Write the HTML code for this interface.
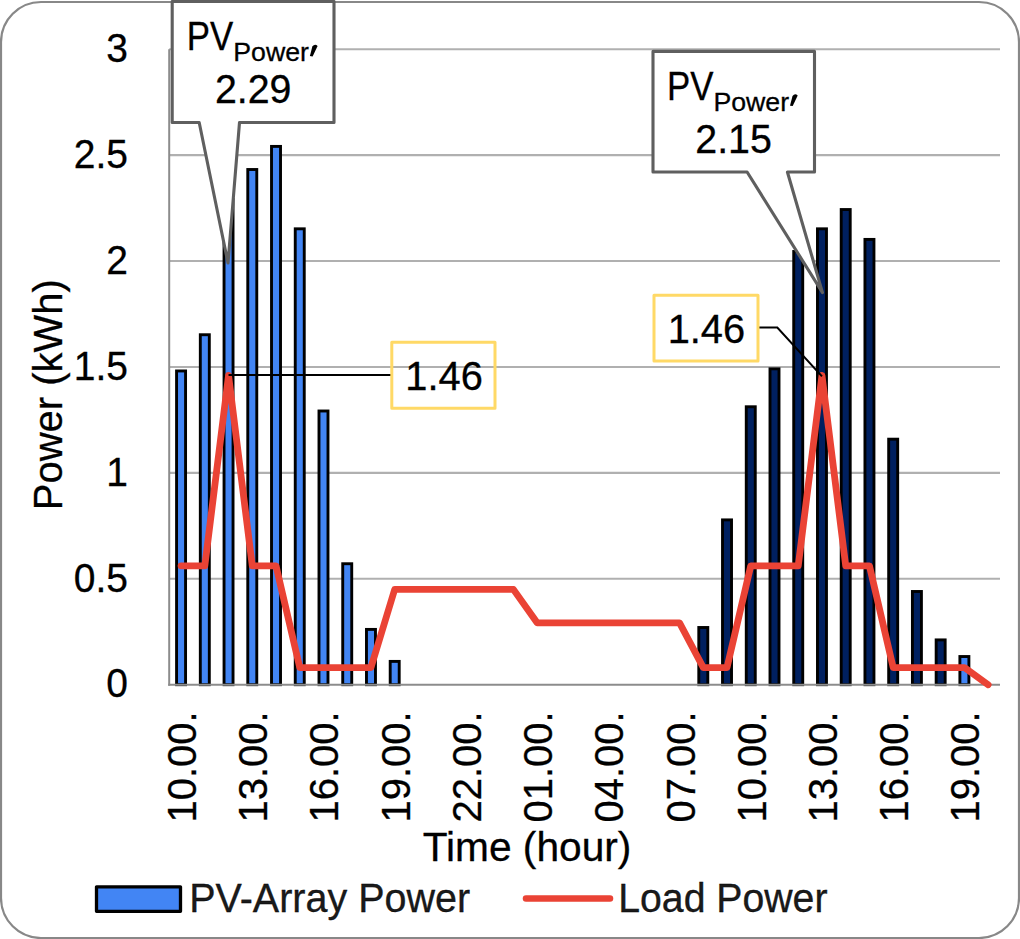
<!DOCTYPE html>
<html><head><meta charset="utf-8"><style>
html,body{margin:0;padding:0;background:#fff;}
svg{display:block;}
text{font-family:"Liberation Sans",sans-serif;fill:#000;stroke:#000;stroke-width:0.3px;}
</style></head><body>
<svg width="1020" height="939" viewBox="0 0 1020 939">
<rect x="1" y="2" width="1018" height="936" rx="40" ry="40" fill="#fff" stroke="#888" stroke-width="2.2"/>
<line x1="169.20" y1="578.78" x2="1000.00" y2="578.78" stroke="#B0B0B0" stroke-width="2.1"/>
<line x1="169.20" y1="472.86" x2="1000.00" y2="472.86" stroke="#B0B0B0" stroke-width="2.1"/>
<line x1="169.20" y1="366.94" x2="1000.00" y2="366.94" stroke="#B0B0B0" stroke-width="2.1"/>
<line x1="169.20" y1="261.02" x2="1000.00" y2="261.02" stroke="#B0B0B0" stroke-width="2.1"/>
<line x1="169.20" y1="155.10" x2="1000.00" y2="155.10" stroke="#B0B0B0" stroke-width="2.1"/>
<line x1="169.20" y1="49.18" x2="1000.00" y2="49.18" stroke="#B0B0B0" stroke-width="2.1"/>
<rect x="176.57" y="370.96" width="9.0" height="313.74" fill="#4285F4" stroke="#000" stroke-width="2.9"/>
<rect x="200.31" y="334.74" width="9.0" height="349.96" fill="#4285F4" stroke="#000" stroke-width="2.9"/>
<rect x="224.04" y="199.59" width="9.0" height="485.11" fill="#4285F4" stroke="#000" stroke-width="2.9"/>
<rect x="247.78" y="169.51" width="9.0" height="515.19" fill="#4285F4" stroke="#000" stroke-width="2.9"/>
<rect x="271.52" y="146.41" width="9.0" height="538.29" fill="#4285F4" stroke="#000" stroke-width="2.9"/>
<rect x="295.25" y="228.82" width="9.0" height="455.88" fill="#4285F4" stroke="#000" stroke-width="2.9"/>
<rect x="318.99" y="411.00" width="9.0" height="273.70" fill="#4285F4" stroke="#000" stroke-width="2.9"/>
<rect x="342.73" y="563.74" width="9.0" height="120.96" fill="#4285F4" stroke="#000" stroke-width="2.9"/>
<rect x="366.47" y="629.41" width="9.0" height="55.29" fill="#4285F4" stroke="#000" stroke-width="2.9"/>
<rect x="390.20" y="661.40" width="9.0" height="23.30" fill="#4285F4" stroke="#000" stroke-width="2.9"/>
<rect x="959.89" y="656.53" width="9.0" height="28.17" fill="#4285F4" stroke="#000" stroke-width="2.9"/>
<rect x="698.79" y="627.50" width="9.0" height="57.20" fill="#002060" stroke="#000" stroke-width="2.9"/>
<rect x="722.52" y="519.89" width="9.0" height="164.81" fill="#002060" stroke="#000" stroke-width="2.9"/>
<rect x="746.26" y="406.77" width="9.0" height="277.93" fill="#002060" stroke="#000" stroke-width="2.9"/>
<rect x="770.00" y="368.85" width="9.0" height="315.85" fill="#002060" stroke="#000" stroke-width="2.9"/>
<rect x="793.73" y="251.49" width="9.0" height="433.21" fill="#002060" stroke="#000" stroke-width="2.9"/>
<rect x="817.47" y="228.82" width="9.0" height="455.88" fill="#002060" stroke="#000" stroke-width="2.9"/>
<rect x="841.21" y="209.54" width="9.0" height="475.16" fill="#002060" stroke="#000" stroke-width="2.9"/>
<rect x="864.95" y="239.41" width="9.0" height="445.29" fill="#002060" stroke="#000" stroke-width="2.9"/>
<rect x="888.68" y="439.18" width="9.0" height="245.52" fill="#002060" stroke="#000" stroke-width="2.9"/>
<rect x="912.42" y="591.49" width="9.0" height="93.21" fill="#002060" stroke="#000" stroke-width="2.9"/>
<rect x="936.16" y="639.90" width="9.0" height="44.80" fill="#002060" stroke="#000" stroke-width="2.9"/>
<line x1="169.20" y1="49.18" x2="169.20" y2="685.70" stroke="#8C8C8C" stroke-width="2"/>
<line x1="168.20" y1="684.70" x2="1000.00" y2="684.70" stroke="#8C8C8C" stroke-width="2"/>
<polyline points="181.07,565.86 204.81,565.86 228.54,375.41 252.28,565.86 276.02,565.86 299.75,667.54 323.49,667.54 347.23,667.54 370.97,667.54 394.70,589.37 418.44,589.37 442.18,589.37 465.91,589.37 489.65,589.37 513.39,589.37 537.13,622.84 560.86,622.84 584.60,622.84 608.34,622.84 632.07,622.84 655.81,622.84 679.55,622.84 703.29,667.54 727.02,667.54 750.76,565.86 774.50,565.86 798.23,565.86 821.97,375.41 845.71,565.86 869.45,565.86 893.18,667.54 916.92,667.54 940.66,667.54 964.39,667.54 988.13,684.70" fill="none" stroke="#EA4335" stroke-width="6.8" stroke-linejoin="round" stroke-linecap="round"/>
<polyline points="228.54,375 391.8,375" fill="none" stroke="#000" stroke-width="2"/>
<polyline points="758,327.5 777.3,327.5 821.97,376.41" fill="none" stroke="#000" stroke-width="2"/>
<path d="M172.2,1.5 L334,1.5 L334,122.5 L239.5,122.5 L228,263 L199.2,122.5 L172.2,122.5 Z" fill="#fff" stroke="#5f5f5f" stroke-width="3.1" stroke-linejoin="round"/>
<path d="M653,51.4 L814.5,51.4 L814.5,172 L787.4,172 L822.5,292.6 L747.1,172 L653,172 Z" fill="#fff" stroke="#5f5f5f" stroke-width="3.1" stroke-linejoin="round"/>
<rect x="391.8" y="342.2" width="103.2" height="66.1" fill="none" stroke="#FFD966" stroke-width="3" stroke-linejoin="round"/>
<rect x="654" y="295.2" width="104" height="65.8" fill="none" stroke="#FFD966" stroke-width="3" stroke-linejoin="round"/>
<text transform="translate(128.00,697.45) scale(0.9750,1)" font-size="40" text-anchor="end" >0</text>
<text transform="translate(128.00,591.53) scale(0.9750,1)" font-size="40" text-anchor="end" >0.5</text>
<text transform="translate(128.00,485.61) scale(0.9750,1)" font-size="40" text-anchor="end" >1</text>
<text transform="translate(128.00,379.69) scale(0.9750,1)" font-size="40" text-anchor="end" >1.5</text>
<text transform="translate(128.00,273.77) scale(0.9750,1)" font-size="40" text-anchor="end" >2</text>
<text transform="translate(128.00,167.85) scale(0.9750,1)" font-size="40" text-anchor="end" >2.5</text>
<text transform="translate(128.00,61.93) scale(0.9750,1)" font-size="40" text-anchor="end" >3</text>
<text transform="translate(61.8,510.2) rotate(-90)" font-size="40">Power (kWh)</text>
<text transform="translate(196.07,822.50) rotate(-90)" font-size="40">10.00.</text>
<text transform="translate(267.28,822.50) rotate(-90)" font-size="40">13.00.</text>
<text transform="translate(338.49,822.50) rotate(-90)" font-size="40">16.00.</text>
<text transform="translate(409.70,822.50) rotate(-90)" font-size="40">19.00.</text>
<text transform="translate(480.91,822.50) rotate(-90)" font-size="40">22.00.</text>
<text transform="translate(552.13,822.50) rotate(-90)" font-size="40">01.00.</text>
<text transform="translate(623.34,822.50) rotate(-90)" font-size="40">04.00.</text>
<text transform="translate(694.55,822.50) rotate(-90)" font-size="40">07.00.</text>
<text transform="translate(765.76,822.50) rotate(-90)" font-size="40">10.00.</text>
<text transform="translate(836.97,822.50) rotate(-90)" font-size="40">13.00.</text>
<text transform="translate(908.18,822.50) rotate(-90)" font-size="40">16.00.</text>
<text transform="translate(979.39,822.50) rotate(-90)" font-size="40">19.00.</text>
<text transform="translate(422.70,860.60) scale(1.0170,1)" font-size="40" text-anchor="start" >Time (hour)</text>
<rect x="96.5" y="886.8" width="84" height="24.5" fill="#4285F4" stroke="#000" stroke-width="3.3" stroke-linejoin="round"/>
<line x1="526" y1="898.6" x2="610" y2="898.6" stroke="#EA4335" stroke-width="6.5" stroke-linecap="round"/>
<text transform="translate(189.24,911.80) scale(0.9870,1)" font-size="40" text-anchor="start" style="fill:#1a1a1a">PV-Array Power</text>
<text transform="translate(618.27,911.90) scale(0.9800,1)" font-size="40" text-anchor="start" style="fill:#1a1a1a">Load Power</text>
<text transform="translate(186.83,50.30) scale(0.87,1)" font-size="40">PV</text>
<text x="233.30" y="61.00" font-size="26.7">Power</text>
<path d="M312.40,46.30 Q314.90,43.40 317.60,45.90 L312.60,56.40 L309.90,56.10 Z" fill="#000"/>
<text transform="translate(253.20,103.20) scale(0.9840,1)" font-size="40" text-anchor="middle" >2.29</text>
<text transform="translate(666.93,99.90) scale(0.87,1)" font-size="40">PV</text>
<text x="713.40" y="110.60" font-size="26.7">Power</text>
<path d="M792.50,95.90 Q795.00,93.00 797.70,95.50 L792.70,106.00 L790.00,105.70 Z" fill="#000"/>
<text transform="translate(733.60,153.40) scale(0.9840,1)" font-size="40" text-anchor="middle" >2.15</text>
<text transform="translate(444.10,390.40) scale(0.9960,1)" font-size="40" text-anchor="middle" >1.46</text>
<text transform="translate(706.40,343.10) scale(0.9960,1)" font-size="40" text-anchor="middle" >1.46</text>
</svg>
</body></html>
